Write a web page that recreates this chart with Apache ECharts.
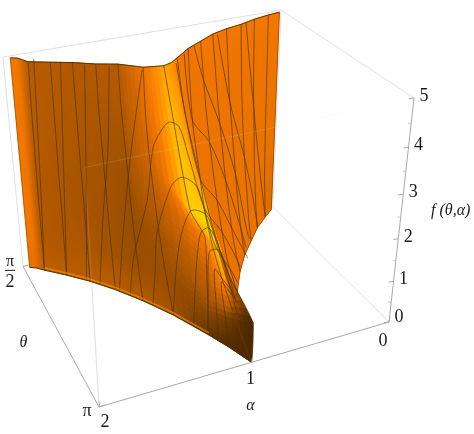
<!DOCTYPE html>
<html>
<head>
<meta charset="utf-8">
<style>html,body{margin:0;padding:0;background:#fff}#chart{width:474px;height:434px}</style>
<script src="https://cdn.jsdelivr.net/npm/echarts@6/dist/echarts.min.js"></script>
</head>
<body>
<div id="chart"></div>
<script>
// values
const alphaColumns = [1.96, 1.92, 1.875, 1.75, 1.625, 1.5, 1.375, 1.25, 1.125, 1.0625, 1, 0.875, 0.75, 0.625, 0.5, 0.375, 0.25, 0.125, 0.03];
// theta in degrees along each alpha column, bottom of the sheet to top
const surfaceTheta = [
    [91.8, 91.8, 91.8, 91.8, 91.8, 91.8, 91.8],
    [93.2, 93.2, 93.2, 93.2, 93.2, 93.2, 93.2],
    [96, 96.3, 96.3, 96.3, 96.7, 97, 98],
    [103, 102.6, 102.6, 102, 102, 101.7, 101.7],
    [110.7, 110, 109, 108, 107, 106, 105.3],
    [120, 118, 116, 114.3, 112.5, 110.7, 110],
    [131, 127, 123.3, 120.6, 118, 115, 113.4],
    [144, 137, 131.4, 127, 123.3, 120.6, 119.7],
    [160.2, 159.3, 158, 156, 144, 130.5, 121.5],
    [169.2, 168.3, 166.5, 162, 153, 144, 120],
    [180, 180, 162, 148.5, 135, 123.3, 117],
    [151, 141, 133, 126, 121.5, 114.3, 110.7],
    [140.4, 131.4, 126.9, 122.4, 117.9, 111.6, 106.2],
    [128.7, 123.3, 119.7, 116.1, 112.5, 107.1, 101.7],
    [118.8, 115.2, 112.5, 109.8, 107.1, 102.6, 99],
    [110.7, 108, 106.2, 104, 101.7, 99, 97.2],
    [102.6, 100.8, 99.5, 98.1, 97.2, 95.4, 94.5],
    [96.3, 95.4, 94.5, 94, 93.6, 93.2, 92.7],
    [91.8, 91.8, 91.8, 91.8, 91.8, 91.8, 91.8]
];
const wallLevels = [0, 0.8, 1.6, 2.4, 3.2, 4.1, 5];
const backLevels = [0, 0.5, 1, 1.6, 2.3, 3.5, 5];
const surfaceF = [
    wallLevels, wallLevels, wallLevels, wallLevels, wallLevels, wallLevels, wallLevels, wallLevels,
    [0, 0.6, 1.3, 2.2, 2.4, 3.9, 5],
    [0, 0.7, 1.4, 2, 2.3, 2.7, 5],
    [0, 0.95, 1.35, 2, 3, 4, 5],
    backLevels, backLevels, backLevels, backLevels, backLevels, backLevels, backLevels, backLevels
];
// mesh curves of constant theta, split where they are cut off at f = 5
const thetaLineDeg = [96.3, 102.9, 108.9, 114.3, 121.5, 126, 135, 144, 153, 159.3, 164.7, 169,
    96.3, 102.9, 108.9, 114.3, 121.5];
const thetaLineAlpha = [
    [1.875, 1.85, 1.83],
    [1.75, 1.72, 1.69],
    [1.64, 1.6, 1.567],
    [1.575, 1.53, 1.47, 1.44],
    [1.48, 1.43, 1.36, 1.27],
    [1.43, 1.4, 1.29, 1.24, 1.17, 1.125, 1.06, 1, 0.875, 0.75, 0.65, 0.6],
    [1.33, 1.31, 1.29, 1.19, 1.125, 1.06, 1, 0.875, 0.75, 0.7],
    [1.25, 1.23, 1.19, 1.125, 1.06, 1, 0.875, 0.8],
    [1.176, 1.165, 1.15, 1.125, 1.07, 1, 0.9, 0.86],
    [1.13, 1.126, 1.12, 1.06, 1, 0.93],
    [1.1, 1.115, 1.13, 1.08, 1],
    [1.064, 1.09, 1.12, 1.06, 1],
    [0.33, 0.25, 0.18, 0.125],
    [0.6, 0.5, 0.375, 0.3, 0.25],
    [0.82, 0.75, 0.625, 0.5, 0.4, 0.375],
    [0.93, 0.875, 0.75, 0.625, 0.5, 0.45],
    [1.04, 1, 0.875, 0.75, 0.625, 0.5]
];
const thetaLineF = [
    [0, 2.5, 5],
    [0, 2.5, 5],
    [0, 2.5, 5],
    [0, 1.6, 3.3, 5],
    [0, 1.6, 3.3, 5],
    [0, 0.9, 2.24, 3.42, 3.8, 3.9, 3.75, 3.1, 1.7, 1.05, 0.4, 0],
    [0, 0.8, 1.74, 2.73, 2.9, 2.8, 2.55, 1.1, 0.35, 0],
    [0, 1, 1.9, 2.4, 2.35, 2.15, 0.7, 0],
    [0, 0.9, 1.7, 2.2, 2.25, 1.75, 0.5, 0],
    [0, 0.9, 1.95, 1.95, 1.45, 0.6],
    [0, 0.9, 1.75, 1.5, 1.1],
    [0, 0.8, 1.6, 1.3, 1],
    [5, 2.9, 1.2, 0],
    [5, 3.4, 1.95, 0.9, 0],
    [5, 4.2, 3.1, 1.8, 0.3, 0],
    [5, 3.5, 2.9, 1.9, 0.6, 0],
    [5, 4.2, 2.3, 1.7, 0.85, 0]
];
const meshAlpha = [1.875, 1.75, 1.625, 1.5, 1.375, 1.25, 1.125, 1, 0.875, 0.75, 0.625, 0.5, 0.375, 0.25, 0.125];
const fTicks = [0, 1, 2, 3, 4, 5];
const fMinorTicks = [0.5, 1.5, 2.5, 3.5, 4.5];
const alphaTicks = [0, 1, 2];

// lighting of the sheet, one row of light per alpha column (style only)
const surfaceLight = [
    [0.72, 0.76, 0.76, 0.76, 0.76, 0.76, 0.76],
    [0.7, 0.74, 0.74, 0.74, 0.75, 0.75, 0.75],
    [0.52, 0.46, 0.46, 0.46, 0.48, 0.48, 0.48],
    [0.5, 0.45, 0.44, 0.44, 0.45, 0.46, 0.48],
    [0.5, 0.44, 0.43, 0.43, 0.44, 0.45, 0.46],
    [0.5, 0.42, 0.42, 0.42, 0.43, 0.44, 0.47],
    [0.46, 0.4, 0.39, 0.4, 0.42, 0.44, 0.48],
    [0.42, 0.4, 0.42, 0.5, 0.6, 0.68, 0.74],
    [0.26, 0.38, 0.52, 0.8, 0.95, 0.93, 0.88],
    [0.2, 0.32, 0.85, 0.97, 0.97, 0.92, 0.84],
    [0.16, 0.16, 0.5, 0.8, 0.85, 0.78, 0.76],
    [0.7, 0.7, 0.7, 0.72, 0.72, 0.73, 0.74],
    [0.72, 0.72, 0.72, 0.72, 0.72, 0.73, 0.75],
    [0.72, 0.72, 0.72, 0.72, 0.72, 0.73, 0.75],
    [0.72, 0.72, 0.72, 0.72, 0.72, 0.73, 0.75],
    [0.72, 0.72, 0.72, 0.72, 0.72, 0.73, 0.75],
    [0.72, 0.72, 0.72, 0.72, 0.72, 0.73, 0.75],
    [0.7, 0.7, 0.7, 0.72, 0.72, 0.73, 0.75],
    [0.66, 0.66, 0.68, 0.7, 0.72, 0.73, 0.75]
];
const lightRamp = [
    [0, [40, 20, 0]], [0.25, [92, 50, 0]], [0.45, [176, 88, 0]], [0.6, [208, 102, 0]],
    [0.75, [242, 118, 0]], [0.85, [255, 150, 0]], [0.93, [255, 190, 0]], [1, [255, 235, 0]]
];

// camera of the box: corner (alpha 0, theta pi, f 0) and the three edges from it
const corner0 = [389, 322], cornerAlpha = [99, 407], cornerTheta = [272.8, 206.6], cornerF = [414, 98];
const wAlpha = 0.9017, wTheta = 1.191, wF = 0.8856;

function plotXY(alpha, theta, f) {
    const x = alpha / 2, y = (180 - theta) / 90, z = f / 5;
    const d = 1 + x * (wAlpha - 1) + y * (wTheta - 1) + z * (wF - 1);
    return [0, 1].map(k => (corner0[k]
        + x * (wAlpha * cornerAlpha[k] - corner0[k])
        + y * (wTheta * cornerTheta[k] - corner0[k])
        + z * (wF * cornerF[k] - corner0[k])) / d);
}

function lightColor(v) {
    let i = 0;
    while (i < lightRamp.length - 2 && v > lightRamp[i + 1][0]) i++;
    const a = lightRamp[i], b = lightRamp[i + 1];
    const t = Math.min(1, Math.max(0, (v - a[0]) / (b[0] - a[0])));
    const c = a[1].map((n, k) => Math.round(n + (b[1][k] - n) * t));
    return 'rgb(' + c.join(',') + ')';
}

const SUB = 6;
const ridgeColumn = alphaColumns.indexOf(1);
const quadOrder = [];
// sheet behind the ridge first, then the front wall over it
for (let i = alphaColumns.length - 2; i >= ridgeColumn; i--) {
    for (let j = 0; j < 6; j++) quadOrder.push([i, j]);
}
for (let i = 0; i < ridgeColumn; i++) {
    for (let j = 0; j < 6; j++) quadOrder.push([i, j]);
}

function nodePx(api, i, j) {
    return api.coord(plotXY(alphaColumns[i], surfaceTheta[i][j], surfaceF[i][j]));
}

function renderQuad(params, api) {
    const i = api.value(0), j = api.value(1);
    const p00 = nodePx(api, i, j), p10 = nodePx(api, i + 1, j);
    const p01 = nodePx(api, i, j + 1), p11 = nodePx(api, i + 1, j + 1);
    const l00 = surfaceLight[i][j], l10 = surfaceLight[i + 1][j];
    const l01 = surfaceLight[i][j + 1], l11 = surfaceLight[i + 1][j + 1];
    const mix = (a, b, c, d, u, v) => (a * (1 - u) + b * u) * (1 - v) + (c * (1 - u) + d * u) * v;
    const at = (u, v) => [mix(p00[0], p10[0], p01[0], p11[0], u, v), mix(p00[1], p10[1], p01[1], p11[1], u, v)];
    const children = [];
    for (let a = 0; a < SUB; a++) {
        for (let b = 0; b < SUB; b++) {
            const u0 = a / SUB, u1 = (a + 1) / SUB, v0 = b / SUB, v1 = (b + 1) / SUB;
            const col = lightColor(mix(l00, l10, l01, l11, (u0 + u1) / 2, (v0 + v1) / 2));
            children.push({
                type: 'polygon',
                shape: { points: [at(u0, v0), at(u1, v0), at(u1, v1), at(u0, v1)] },
                style: { fill: col, stroke: col, lineWidth: 1 }
            });
        }
    }
    return { type: 'group', children: children };
}

function curve(api, pts, stroke, width, smooth) {
    return {
        type: 'polyline',
        shape: { points: pts.map(p => api.coord(p)), smooth: smooth || 0 },
        style: { stroke: stroke, lineWidth: width, fill: null }
    };
}

const MESH = 'rgba(72,50,0,0.66)';
const OUTLINE = 'rgba(70,45,0,0.85)';
const FAINT = '#dde0e4';
const AXIS = '#a9a9a9';
const THETA_BACK = 90, THETA_FRONT = 180;

function boxEdge(a0, t0, f0, a1, t1, f1) {
    return [plotXY(a0, t0, f0), plotXY(a1, t1, f1)];
}
const backEdges = [
    boxEdge(2, THETA_BACK, 0, 2, THETA_BACK, 5),
    boxEdge(2, THETA_BACK, 5, 0, THETA_BACK, 5),
    boxEdge(0, THETA_BACK, 5, 0, THETA_FRONT, 5),
    boxEdge(0, THETA_BACK, 5, 0, THETA_BACK, 0),
    boxEdge(0, THETA_BACK, 0, 0, THETA_FRONT, 0),
    boxEdge(2, THETA_BACK, 0, 0, THETA_BACK, 0),
    boxEdge(2, THETA_FRONT, 0, 2, THETA_FRONT, 5)
];
const frontEdges = [
    boxEdge(2, THETA_FRONT, 5, 0, THETA_FRONT, 5),
    boxEdge(2, THETA_FRONT, 0, 2, THETA_FRONT, 5)
];
const axisEdges = [
    boxEdge(2, THETA_BACK, 0, 2, THETA_FRONT, 0),
    boxEdge(2, THETA_FRONT, 0, 0, THETA_FRONT, 0),
    boxEdge(0, THETA_FRONT, 0, 0, THETA_FRONT, 5)
];

function renderBack(params, api) {
    return { type: 'group', children: backEdges.map(e => curve(api, e, FAINT, 1)) };
}

function renderMesh(params, api) {
    const children = [];
    meshAlpha.forEach(a => {
        const i = alphaColumns.indexOf(a);
        const pts = surfaceTheta[i].map((t, j) => plotXY(a, t, surfaceF[i][j]));
        children.push(curve(api, pts, MESH, 1, 0.2));
    });
    thetaLineDeg.forEach((t, k) => {
        const pts = thetaLineAlpha[k].map((a, n) => plotXY(a, t, thetaLineF[k][n]));
        children.push(curve(api, pts, MESH, 1, 0.3));
    });
    // outline of the sheet
    const node = (i, j) => plotXY(alphaColumns[i], surfaceTheta[i][j], surfaceF[i][j]);
    const top = alphaColumns.map((a, i) => node(i, 6));
    const bottom = alphaColumns.slice(0, ridgeColumn + 1).map((a, i) => node(i, 0));
    const back = alphaColumns.slice(ridgeColumn).map((a, i) => node(i + ridgeColumn, 0));
    const last = alphaColumns.length - 1;
    // bright rim just above the lower edge of the wall
    const rim = bottom.slice(2, 9).map(p => [p[0], p[1] - 2]);
    children.push(curve(api, rim, 'rgba(255,160,0,0.55)', 1.6));
    children.push(curve(api, top, OUTLINE, 1));
    children.push(curve(api, bottom, OUTLINE, 1));
    children.push(curve(api, back, 'rgba(120,60,0,0.7)', 0.8));
    children.push(curve(api, [node(0, 0), node(0, 6)], 'rgba(120,60,0,0.6)', 0.8));
    children.push(curve(api, [node(last, 0), node(last, 6)], 'rgba(120,60,0,0.7)', 0.8));
    children.push(curve(api, [node(ridgeColumn, 0), node(ridgeColumn, 1)], OUTLINE, 1));
    return { type: 'group', children: children };
}

function tick(api, base, dx, dy, stroke) {
    const p = api.coord(base);
    return { type: 'line', shape: { x1: p[0], y1: p[1], x2: p[0] + dx, y2: p[1] + dy }, style: { stroke: stroke, lineWidth: 1 } };
}

function label(api, base, dx, dy, text, opt) {
    const p = api.coord(base);
    return {
        type: 'text',
        style: Object.assign({
            x: p[0] + dx, y: p[1] + dy, text: text, fill: '#1a1a1a',
            font: '18px "Liberation Serif"', textAlign: 'center', textVerticalAlign: 'middle'
        }, opt || {})
    };
}

const ITALIC = 'italic 16px "Liberation Serif"';

function renderFront(params, api) {
    const children = [];
    frontEdges.forEach(e => children.push(curve(api, e, 'rgba(225,225,225,0.15)', 1)));
    axisEdges.forEach(e => children.push(curve(api, e, AXIS, 1)));
    fTicks.forEach(f => {
        const b = plotXY(0, THETA_FRONT, f);
        children.push(tick(api, b, -5, 0.6, AXIS));
        children.push(label(api, b, 10, f === 0 ? -5 : -2, String(f)));
    });
    fMinorTicks.forEach(f => children.push(tick(api, plotXY(0, THETA_FRONT, f), -3, 0.4, '#c4c4c4')));
    alphaTicks.forEach(a => {
        const b = plotXY(a, THETA_FRONT, 0);
        children.push(tick(api, b, 1, -5, AXIS));
        children.push(label(api, b, a === 0 ? -6 : a === 1 ? -1 : 6, a === 0 ? 19 : a === 1 ? 17 : 15, String(a)));
    });
    const tEnd = plotXY(2, THETA_FRONT, 0), tStart = plotXY(2, THETA_BACK, 0);
    children.push(tick(api, tEnd, 6, -2, AXIS));
    children.push(tick(api, tStart, 5, -1, AXIS));
    children.push(label(api, tEnd, -12, 4, 'π'));
    children.push(label(api, tStart, -13, -5, 'π', { font: '16px "Liberation Serif"' }));
    children.push(label(api, tStart, -13, 16, '2'));
    const bar = api.coord(tStart);
    children.push({ type: 'line', shape: { x1: bar[0] - 18, y1: bar[1] + 4, x2: bar[0] - 8, y2: bar[1] + 4 }, style: { stroke: '#1a1a1a', lineWidth: 1 } });
    // axis titles beside the middle of each axis
    children.push(label(api, plotXY(2, 135, 0), -34, 13, 'θ', { font: ITALIC }));
    children.push(label(api, plotXY(1, THETA_FRONT, 0), -1, 43, 'α', { font: ITALIC }));
    children.push(label(api, plotXY(0, THETA_FRONT, 2.5), 50, -6, 'f (θ,α)', { font: ITALIC }));
    return { type: 'group', children: children };
}

const chart = echarts.init(document.getElementById('chart'), null, { renderer: 'canvas' });
const single = [[0, 0]];
chart.setOption({
    animation: false,
    backgroundColor: '#ffffff',
    grid: { left: 0, right: 0, top: 0, bottom: 0 },
    xAxis: { type: 'value', min: 0, max: 474, show: false },
    yAxis: { type: 'value', min: 0, max: 434, inverse: true, show: false },
    series: [
        { type: 'custom', silent: true, clip: false, data: single, renderItem: renderBack, z: 1 },
        { type: 'custom', silent: true, clip: false, data: quadOrder, renderItem: renderQuad, z: 2 },
        { type: 'custom', silent: true, clip: false, data: single, renderItem: renderMesh, z: 3 },
        { type: 'custom', silent: true, clip: false, data: single, renderItem: renderFront, z: 4 }
    ]
});
</script>
</body>
</html>
